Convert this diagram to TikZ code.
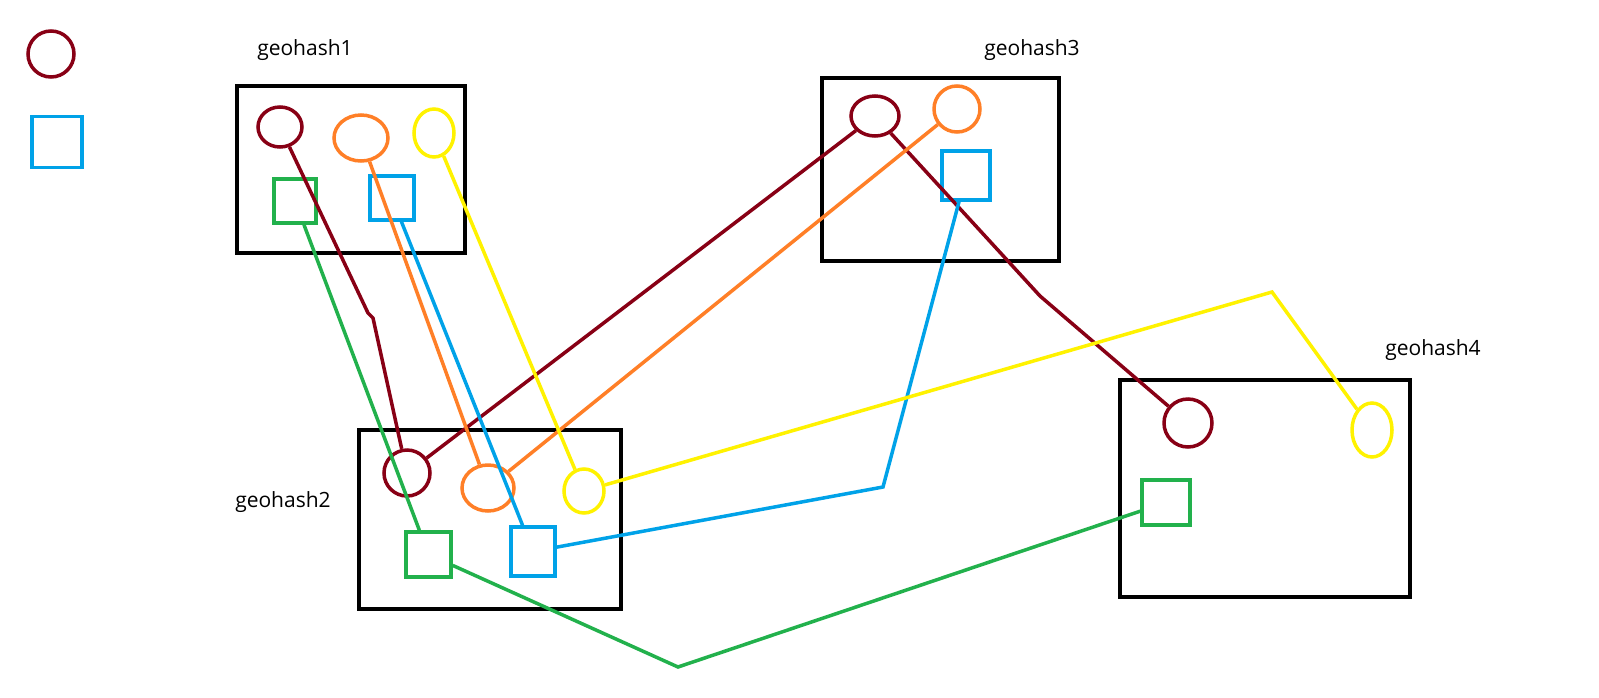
\documentclass[tikz,border=0pt]{standalone}
\usepackage{fontspec}
\setmainfont{Open Sans}
\usetikzlibrary{shapes.geometric}
\definecolor{dred}{HTML}{880015}
\definecolor{oran}{HTML}{FF7F27}
\definecolor{yel}{HTML}{FFF200}
\definecolor{blu}{HTML}{00A2E8}
\definecolor{grn}{HTML}{22B14C}
\begin{document}
\begin{tikzpicture}[x=1pt,y=-1pt,line width=3.5pt,
  box/.style={draw=black,line width=4pt},
  ell/.style={draw=#1,ellipse,inner sep=0pt},
  sq/.style={draw=#1,rectangle,inner sep=0pt},
  lbl/.style={font=\fontsize{21}{25}\selectfont,inner sep=0pt},
  con/.style={draw=#1,line width=3.5pt}]
\useasboundingbox (0,0) rectangle (1599,697);
% legend
\node[ell=dred,minimum width=46,minimum height=46] (lc) at (51,54) {};
\node[sq=blu,minimum width=50,minimum height=51] (ls) at (57,142) {};
% boxes
\node[box,minimum width=228,minimum height=167,inner sep=0pt] (g1) at (351,169.5) {};
\node[box,minimum width=237,minimum height=183,inner sep=0pt] (g3) at (940.5,169.5) {};
\node[box,minimum width=262,minimum height=179,inner sep=0pt] (g2) at (490,519.5) {};
\node[box,minimum width=290,minimum height=217,inner sep=0pt] (g4) at (1265,488.5) {};
\node[lbl] (t1) at (305,50) {geohash1};
\node[lbl] (t3) at (1032,50) {geohash3};
\node[lbl] (t2) at (283,502) {geohash2};
\node[lbl] (t4) at (1433,350) {geohash4};
% g1 contents
\node[ell=dred,minimum width=44,minimum height=40] (r1) at (280,127) {};
\node[ell=oran,minimum width=54,minimum height=46] (o1) at (361,138) {};
\node[ell=yel,minimum width=40,minimum height=48] (y1) at (434,133) {};
\node[sq=grn,minimum width=42,minimum height=44] (gr1) at (295,201) {};
\node[sq=blu,minimum width=44,minimum height=44] (b1) at (392,198) {};
% g3
\node[ell=dred,minimum width=48,minimum height=40] (r3) at (875,116) {};
\node[ell=oran,minimum width=46,minimum height=46] (o3) at (957,109) {};
\node[sq=blu,minimum width=48,minimum height=49] (b3) at (966,175.5) {};
% g2
\node[ell=dred,minimum width=46,minimum height=46] (r2) at (407,473) {};
\node[ell=oran,minimum width=52,minimum height=46] (o2) at (488,488) {};
\node[ell=yel,minimum width=40,minimum height=44] (y2) at (584,491) {};
\node[sq=grn,minimum width=45,minimum height=45] (gr2) at (428.5,554.5) {};
\node[sq=blu,minimum width=44,minimum height=49] (b2) at (533,551.5) {};
% g4
\node[ell=dred,minimum width=48,minimum height=48] (r4) at (1188,423) {};
\node[ell=yel,minimum width=40,minimum height=54] (y4) at (1372,430) {};
\node[sq=grn,minimum width=48,minimum height=45] (gr4) at (1166,502.5) {};
% waypoints
\coordinate (w1) at (368,313);
\coordinate (w1b) at (373,318);
\coordinate (w2) at (1040,296);
\coordinate (w3) at (883,487);
\coordinate (w4) at (1272,292);
\coordinate (w5) at (678,667);
% connectors
\draw[con=dred] (r1) -- (w1) -- (w1b) -- (r2);
\draw[con=dred] (r2) -- (r3);
\draw[con=dred] (r3) -- (w2) -- (r4);
\draw[con=oran] (o1) -- (o2);
\draw[con=oran] (o2) -- (o3);
\draw[con=blu] (b1) -- (b2);
\draw[con=blu] (b2) -- (w3) -- (b3);
\draw[con=yel] (y1) -- (y2);
\draw[con=yel] (y2) -- (w4) -- (y4);
\draw[con=grn] (gr1) -- (gr2);
\draw[con=grn] (gr2) -- (w5) -- (gr4);
\end{tikzpicture}
\end{document}
